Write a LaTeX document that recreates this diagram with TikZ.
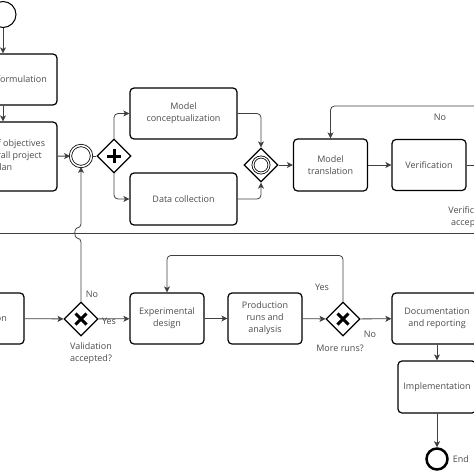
\documentclass[tikz,border=0pt]{standalone}
\usepackage{fontspec}
\setmainfont{Open Sans}
\usetikzlibrary{arrows.meta,shapes.geometric,positioning}

\tikzset{
  task/.style={draw, rounded corners=4pt, line width=1.2pt, minimum width=74pt,
    minimum height=51pt, align=center, text=black!70, font=\fontsize{9}{12}\selectfont},
  gate/.style={draw, diamond, line width=1.2pt, minimum width=34pt, minimum height=34pt, inner sep=0pt},
  flow/.style={draw=black!75, line width=0.8pt, rounded corners=4pt,
    -{Stealth[length=6pt,width=6pt,inset=1.5pt]}},
  plain/.style={draw=black!75, line width=0.8pt, rounded corners=4pt},
  lbl/.style={text=black!70, font=\fontsize{9}{12}\selectfont, align=center, inner sep=1pt}
}

\begin{document}
\begin{tikzpicture}[x=1pt,y=-1pt]
\useasboundingbox (0,0) rectangle (474,474);
\clip (0,0) rectangle (474,474);

% top row
\node[circle,draw,line width=1pt,minimum size=26pt] (start) at (3,14.5) {};
\node[task,minimum width=108pt] (form) at (3,79.5) {Problem formulation};
\node[task,minimum width=108pt,minimum height=69pt] (plan) at (3,156.5) {Setting of objectives\\and overall project\\plan};
\node[circle,draw,double,double distance=1.5pt,line width=0.8pt,minimum size=21pt] (inter) at (81,156) {};
\node[gate] (par) at (114,156) {};
\draw[line width=3pt] ([xshift=-7pt]par.center) -- ([xshift=7pt]par.center);
\draw[line width=3pt] ([yshift=-7pt]par.center) -- ([yshift=7pt]par.center);
\node[task,minimum width=107pt] (conc) at (183.5,113.5) {Model\\conceptualization};
\node[task,minimum width=107pt,minimum height=52pt] (data) at (183.5,199) {Data collection};
\node[gate] (incl) at (261,165) {};
\draw[double,double distance=1.2pt,line width=0.8pt] (incl.center) circle (8pt);
\node[task,minimum height=52pt] (trans) at (330.5,165) {Model\\translation};
\node[task] (verif) at (429,165) {Verification};
\coordinate (vout) at (480,165);
\coordinate (noin) at (480,106);
\coordinate (lout) at (480,233);
\coordinate (lin) at (-6,233);
\node[lbl] (no1) at (440,117) {No};
\node[lbl] (vacc) at (472,217) {Verification\\accepted?};

\draw[flow] (start) -- (form);
\draw[flow] (form) -- (plan);
\draw[flow] (plan) -- (inter);
\draw[plain] (inter) -- (par);
\draw[flow] (par.north) |- (conc.west);
\draw[flow] (par.south) |- (data.west);
\draw[flow] (conc.east) -| (incl.north);
\draw[flow] (data.east) -| (incl.south);
\draw[flow] (incl) -- (trans);
\draw[flow] (trans) -- (verif);
\draw[plain] (verif) -- (vout);
\draw[flow] (noin) -| (trans.north);
\draw[plain] (lout) -- (lin);

% bottom row
\node[task,minimum width=76pt] (valid) at (-14,318.5) {Validation};
\node[gate] (xval) at (81,319) {};
\draw[line width=3pt] ([shift={(-5.5pt,-5.5pt)}]xval.center) -- ([shift={(5.5pt,5.5pt)}]xval.center);
\draw[line width=3pt] ([shift={(-5.5pt,5.5pt)}]xval.center) -- ([shift={(5.5pt,-5.5pt)}]xval.center);
\node[task] (expd) at (167,318.5) {Experimental\\design};
\node[task] (prod) at (265,318.5) {Production\\runs and\\analysis};
\node[gate] (xmore) at (343,319) {};
\draw[line width=3pt] ([shift={(-5.5pt,-5.5pt)}]xmore.center) -- ([shift={(5.5pt,5.5pt)}]xmore.center);
\draw[line width=3pt] ([shift={(-5.5pt,5.5pt)}]xmore.center) -- ([shift={(5.5pt,-5.5pt)}]xmore.center);
\node[task,minimum width=90pt] (doc) at (437,318.5) {Documentation\\and reporting};
\node[task,minimum width=78pt,minimum height=52pt] (impl) at (437,387) {Implementation};
\node[circle,draw,line width=2.5pt,minimum size=21pt] (endev) at (437,459) {};
\node[lbl,right=3pt of endev] (endl) {End};
\coordinate (hopa) at (81,238);
\coordinate (hopb) at (81,228);

\node[lbl] (no2) at (92,294) {No};
\node[lbl] (yes1) at (109,321) {Yes};
\node[lbl] (vacc2) at (91,353) {Validation\\accepted?};
\node[lbl] (yes2) at (322,287) {Yes};
\node[lbl] (no3) at (370,334) {No};
\node[lbl] (more) at (340,348) {More runs?};

\draw[flow] (valid) -- (xval);
\draw[flow] (xval.north) -- (hopa) .. controls +(-7,0) and +(-7,0) .. (hopb) -- (inter.south);
\draw[flow] (xval) -- (expd);
\draw[flow] (expd) -- (prod);
\draw[flow] (prod) -- (xmore);
\draw[flow] (xmore.north) -- ++(0,-46) -| (expd.north);
\draw[flow] (xmore) -- (doc);
\draw[flow] (doc) -- (impl);
\draw[flow] (impl) -- (endev);
\end{tikzpicture}
\end{document}
